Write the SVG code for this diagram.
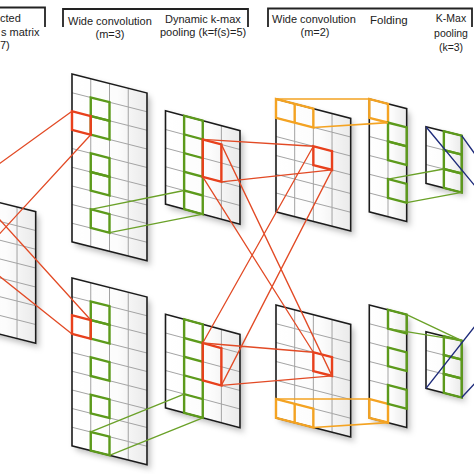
<svg xmlns="http://www.w3.org/2000/svg" width="474" height="474" viewBox="0 0 474 474">
<defs>
<linearGradient id="fillg" x1="0" y1="0" x2="1" y2="0"><stop offset="0" stop-color="#ffffff"/><stop offset="0.6" stop-color="#fcfcfc"/><stop offset="1" stop-color="#eaeaea"/></linearGradient>
<filter id="sh" x="-20%" y="-20%" width="150%" height="150%"><feDropShadow dx="3" dy="3" stdDeviation="3" flood-color="#000" flood-opacity="0.28"/></filter>
<path id="gA" fill="none" stroke="#a3a3a3" stroke-width="1" d="M18.75 0V167.85M37.5 0V167.85M56.25 0V167.85M0 18.65H75M0 37.3H75M0 55.95H75M0 74.6H75M0 93.25H75M0 111.9H75M0 130.55H75M0 149.2H75"/>
<path id="gB" fill="none" stroke="#a3a3a3" stroke-width="1" d="M18.625 0V93.5M37.25 0V93.5M55.875 0V93.5M0 18.7H74.5M0 37.4H74.5M0 56.1H74.5M0 74.8H74.5"/>
<path id="gC" fill="none" stroke="#a3a3a3" stroke-width="1" d="M18.675 0V112.8M37.35 0V112.8M56.025 0V112.8M0 18.8H74.7M0 37.6H74.7M0 56.4H74.7M0 75.2H74.7M0 94H74.7"/>
<path id="gD" fill="none" stroke="#a3a3a3" stroke-width="1" d="M18.7 0V112.8M0 18.8H37.4M0 37.6H37.4M0 56.4H37.4M0 75.2H37.4M0 94H37.4"/>
<path id="gE" fill="none" stroke="#a3a3a3" stroke-width="1" d="M17.85 0V56.7M0 18.9H35.7M0 37.8H35.7"/>
<path id="gL" fill="none" stroke="#a3a3a3" stroke-width="1" d="M18.675 0V131.6M37.35 0V131.6M56.025 0V131.6M0 18.8H74.7M0 37.6H74.7M0 56.4H74.7M0 75.2H74.7M0 94H74.7M0 112.8H74.7"/>
</defs>
<style>
.bg{fill:url(#fillg);filter:url(#sh)}
.bd{fill:none;stroke:#1b1b1b;stroke-width:1.6}
.gr{fill:none;stroke:#5c9a1b;stroke-width:2.4}
.rd{fill:none;stroke:#e8401c;stroke-width:2.4}
.or{fill:none;stroke:#f4a322;stroke-width:2.4}
.cr{fill:none;stroke:#e24a25;stroke-width:1.3}
.cg{fill:none;stroke:#6aa128;stroke-width:1.3}
.co{fill:none;stroke:#f4a322;stroke-width:1.6}
.cb{fill:none;stroke:#1e2b7a;stroke-width:1.4}
.hd{fill:none;stroke:#222;stroke-width:1.8}
text{font-family:"Liberation Sans",Arial,sans-serif;font-size:11px;fill:#222}
.sm{font-size:10.5px}
.mid{text-anchor:middle}
</style>

<g id="header">
<path class="hd" d="M0 7.5H45V27"/>
<path class="hd" d="M63 27V9H248V27"/>
<path class="hd" d="M268 27V8.5H472V27"/>
<text x="0" y="22">cted</text>
<text x="1" y="36">s matrix</text>
<text x="0" y="49">7)</text>
<text x="68" y="25">Wide convolution</text>
<text x="110" y="37.5" class="mid">(m=3)</text>
<text x="165" y="23">Dynamic k-max</text>
<text x="160" y="36">pooling (k=f(s)=5)</text>
<text x="272" y="22.5">Wide convolution</text>
<text x="315" y="36" class="mid">(m=2)</text>
<text x="370" y="23.5" style="font-size:11.5px">Folding</text>
<text x="451" y="22" class="mid sm">K-Max</text>
<text x="451" y="36.5" class="mid sm">pooling</text>
<text x="451" y="50.5" class="mid sm">(k=3)</text>
</g>

<g id="L" transform="translate(-39 192.8) skewY(14.21)">
<rect class="bg" width="74.7" height="131.6"/><use href="#gL"/><rect class="bd" width="74.7" height="131.6"/>
</g>

<g id="A1" transform="translate(72 74) skewY(14.21)">
<rect class="bg" width="75" height="167.85"/><use href="#gA"/><rect class="bd" width="75" height="167.85"/>
<rect class="gr" x="18.75" y="18.65" width="18.75" height="18.65"/>
<rect class="gr" x="18.75" y="37.3" width="18.75" height="18.65"/>
<rect class="gr" x="18.75" y="74.6" width="18.75" height="18.65"/>
<rect class="gr" x="18.75" y="93.25" width="18.75" height="18.65"/>
<rect class="gr" x="18.75" y="130.55" width="18.75" height="18.65"/>
<rect class="rd" x="0" y="37.3" width="18.75" height="18.65"/>
</g>

<g id="A2" transform="translate(72 278) skewY(14.21)">
<rect class="bg" width="75" height="167.85"/><use href="#gA"/><rect class="bd" width="75" height="167.85"/>
<rect class="gr" x="18.75" y="18.65" width="18.75" height="18.65"/>
<rect class="gr" x="18.75" y="37.3" width="18.75" height="18.65"/>
<rect class="gr" x="18.75" y="74.6" width="18.75" height="18.65"/>
<rect class="gr" x="18.75" y="111.9" width="18.75" height="18.65"/>
<rect class="gr" x="18.75" y="149.2" width="18.75" height="18.65"/>
<rect class="rd" x="0" y="37.3" width="18.75" height="18.65"/>
</g>

<g id="B1" transform="translate(165.5 110.7) skewY(15.03)">
<rect class="bg" width="74.5" height="93.5"/><use href="#gB"/><rect class="bd" width="74.5" height="93.5"/>
<rect class="gr" x="18.625" y="0" width="18.625" height="93.5"/>
<path class="gr" d="M18.625 18.7H37.25M18.625 37.4H37.25M18.625 56.1H37.25M18.625 74.8H37.25"/>
<rect class="rd" x="37.25" y="18.7" width="18.625" height="37.4"/>
</g>

<g id="B2" transform="translate(165.5 314.3) skewY(15.03)">
<rect class="bg" width="74.5" height="93.5"/><use href="#gB"/><rect class="bd" width="74.5" height="93.5"/>
<rect class="gr" x="18.625" y="0" width="18.625" height="93.5"/>
<path class="gr" d="M18.625 18.7H37.25M18.625 37.4H37.25M18.625 56.1H37.25M18.625 74.8H37.25"/>
<rect class="rd" x="37.25" y="18.7" width="18.625" height="37.4"/>
</g>

<g id="C1" transform="translate(276 99) skewY(14.49)">
<rect class="bg" width="74.7" height="112.8"/><use href="#gC"/><rect class="bd" width="74.7" height="112.8"/>
<rect class="or" x="0" y="0" width="37.35" height="18.8"/><path class="or" d="M18.675 0V18.8"/>
<rect class="rd" x="37.35" y="37.6" width="18.675" height="18.8"/>
</g>

<g id="C2" transform="translate(276 305) skewY(14.49)">
<rect class="bg" width="74.7" height="112.8"/><use href="#gC"/><rect class="bd" width="74.7" height="112.8"/>
<rect class="or" x="0" y="94" width="37.35" height="18.8"/><path class="or" d="M18.675 94V112.8"/>
<rect class="rd" x="37.35" y="37.6" width="18.675" height="18.8"/>
</g>

<g id="D1" transform="translate(369.3 99) skewY(14.49)">
<rect class="bg" width="37.4" height="112.8"/><use href="#gD"/><rect class="bd" width="37.4" height="112.8"/>
<rect class="or" x="0" y="0" width="18.7" height="18.8"/>
<rect class="gr" x="18.7" y="18.8" width="18.7" height="18.8"/>
<rect class="gr" x="18.7" y="37.6" width="18.7" height="18.8"/>
<rect class="gr" x="18.7" y="75.2" width="18.7" height="18.8"/>
</g>

<g id="D2" transform="translate(369.3 305) skewY(14.49)">
<rect class="bg" width="37.4" height="112.8"/><use href="#gD"/><rect class="bd" width="37.4" height="112.8"/>
<rect class="or" x="0" y="94" width="18.7" height="18.8"/>
<rect class="gr" x="18.7" y="0" width="18.7" height="18.8"/>
<rect class="gr" x="18.7" y="37.6" width="18.7" height="18.8"/>
<rect class="gr" x="18.7" y="75.2" width="18.7" height="18.8"/>
</g>

<g id="E1" transform="translate(426 126.7) skewY(14.14)">
<rect class="bg" width="35.7" height="56.7"/><use href="#gE"/><rect class="bd" width="35.7" height="56.7"/>
<rect class="gr" x="17.85" y="0" width="17.85" height="18.9"/>
<rect class="gr" x="17.85" y="18.9" width="17.85" height="18.9"/>
<rect class="gr" x="17.85" y="37.8" width="17.85" height="18.9"/>
</g>

<g id="E2" transform="translate(426 331.7) skewY(14.14)">
<rect class="bg" width="35.7" height="56.7"/><use href="#gE"/><rect class="bd" width="35.7" height="56.7"/>
<rect class="gr" x="17.85" y="0" width="17.85" height="18.9"/>
<rect class="gr" x="17.85" y="18.9" width="17.85" height="18.9"/>
<rect class="gr" x="17.85" y="37.8" width="17.85" height="18.9"/>
</g>

<g id="connectors">
<path class="cr" d="M72 111.3L-20 177.7M90.75 134.7L-20 255.1M90.75 320.05L-20 198M72 333.95L-20 260.8"/>
<path class="cr" d="M202.75 139.4L313.35 146.25M221.375 181.8L332.025 169.875M202.75 176.8L313.35 352.25M221.375 144.4L332.025 375.875M202.75 343L313.35 352.25M221.375 385.4L332.025 375.875M202.75 343L313.35 146.25M221.375 385.4L332.025 169.875"/>
<path class="cg" d="M90.75 209.3L184.125 190.5M109.5 232.7L202.75 214.2M90.75 431.95L184.125 394.1M109.5 455.35L202.75 417.8"/>
<path class="cg" d="M388 179.03L443.85 169M406.7 202.66L461.7 192.4M406.7 314.66L461.7 340.7M388 328.63L461.7 340.7"/>
<path class="co" d="M276 99L369.3 99M313.35 127.45L388 122.63M276 399L369.3 399M313.35 427.45L388 422.63"/>
<path class="cb" d="M426 126.7L480 192M461.7 135.7L480 161M426 388.4L480 319.8M461.7 397.4L480 377.8"/>
</g>
</svg>
